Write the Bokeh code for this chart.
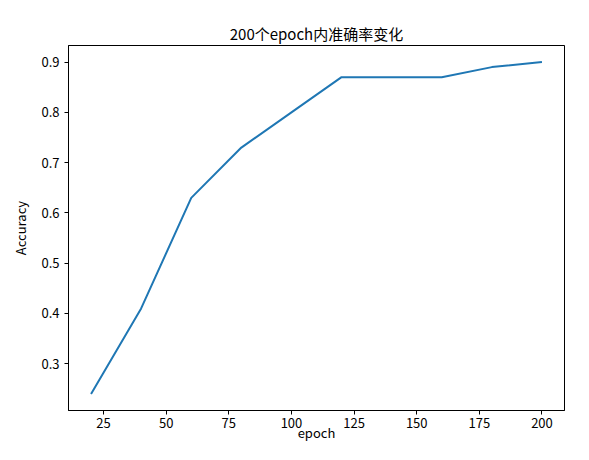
from bokeh.plotting import figure
from bokeh.models import FixedTicker, Range1d, Span
from bokeh.embed import file_html
from bokeh.resources import INLINE

epochs = [20, 40, 60, 80, 100, 120, 140, 160, 180, 200]
accuracy = [0.24, 0.41, 0.63, 0.73, 0.80, 0.87, 0.87, 0.87, 0.89, 0.90]
x_ticks = [25, 50, 75, 100, 125, 150, 175, 200]
y_ticks = [0.3, 0.4, 0.5, 0.6, 0.7, 0.8, 0.9]

FONT = "Noto Sans CJK SC"

xr = max(epochs) - min(epochs)
yr = max(accuracy) - min(accuracy)
x0, x1 = min(epochs) - 0.05 * xr, max(epochs) + 0.05 * xr
y0, y1 = min(accuracy) - 0.05 * yr, max(accuracy) + 0.05 * yr

p = figure(
    width=573, height=444,
    output_backend="svg", toolbar_location=None,
    x_range=Range1d(x0, x1),
    y_range=Range1d(y0, y1),
    title="200个epoch内准确率变化",
    min_border_left=68, min_border_right=9, min_border_top=45, min_border_bottom=32,
)
p.line(epochs, accuracy, line_color="#1f77b4", line_width=2)

# top and right spines
p.add_layout(Span(location=y1, dimension="width", line_color="black", line_width=1))
p.add_layout(Span(location=x1, dimension="height", line_color="black", line_width=1))

p.title.align = "center"
p.title.text_font = FONT
p.title.text_font_style = "normal"
p.title.text_font_size = "15px"
p.title.text_color = "black"
p.title.offset = 0
p.title.standoff = 3

p.grid.visible = False
p.outline_line_color = "black"
p.outline_line_alpha = 1
p.outline_line_width = 1

p.xaxis.ticker = FixedTicker(ticks=x_ticks)
p.yaxis.ticker = FixedTicker(ticks=y_ticks)
for ax in (p.xaxis, p.yaxis):
    ax.axis_line_color = "black"
    ax.major_tick_line_color = "black"
    ax.major_tick_out = 4
    ax.major_tick_in = 0
    ax.minor_tick_line_color = None
    ax.major_label_text_font = FONT
    ax.major_label_text_font_size = "13px"
    ax.major_label_text_color = "black"
    ax.axis_label_text_font = FONT
    ax.axis_label_text_font_size = "13px"
    ax.axis_label_text_font_style = "normal"
    ax.axis_label_text_color = "black"

p.xaxis.axis_label = "epoch"
p.yaxis.axis_label = "Accuracy"
p.xaxis.axis_label_standoff = -8
p.yaxis.axis_label_standoff = 8
p.xaxis.major_label_standoff = 3
p.yaxis.major_label_standoff = 5
p.yaxis.major_label_orientation = "horizontal"

p.background_fill_color = "white"
p.border_fill_color = "white"

open("out.html", "w").write(file_html(p, INLINE))
